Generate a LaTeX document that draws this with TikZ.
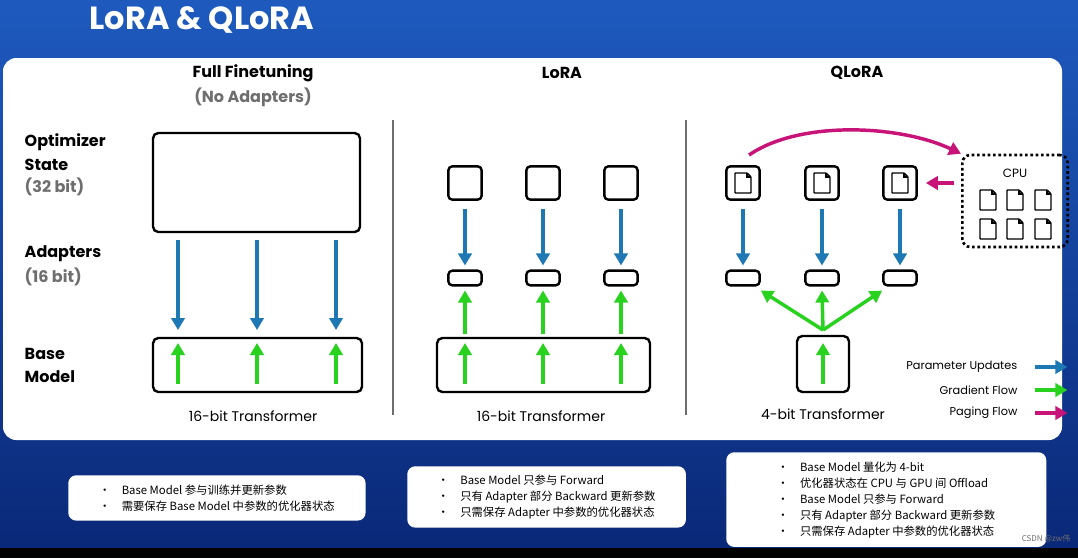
\documentclass[tikz,border=0pt]{standalone}
\usepackage{fontspec}
\setmainfont{Poppins}
\newfontfamily\cjk{Noto Sans CJK SC}
\usetikzlibrary{arrows.meta}
\definecolor{pblue}{RGB}{30,120,180}
\definecolor{pgreen}{RGB}{40,210,30}
\definecolor{pmag}{RGB}{200,20,120}
\definecolor{bgdark}{RGB}{10,40,120}
\definecolor{bglight}{RGB}{30,90,190}
\definecolor{lgray}{RGB}{110,110,110}
\begin{document}
\begin{tikzpicture}[x=0.75pt,y=-0.75pt,
  hdr/.style={font=\bfseries\fontsize{12}{14}\selectfont},
  sub/.style={font=\bfseries\fontsize{12}{14}\selectfont,text=lgray},
  rowl/.style={font=\bfseries\fontsize{12}{14}\selectfont,anchor=west},
  captxt/.style={font=\fontsize{10.5}{12}\selectfont},
  box/.style={draw,line width=1.8pt,rounded corners=4pt},
  sq/.style={draw,line width=1.8pt,rounded corners=3pt,minimum width=25pt,minimum height=25pt,inner sep=0pt},
  ad/.style={draw,line width=1.8pt,rounded corners=3pt,minimum width=25pt,minimum height=11pt,inner sep=0pt},
  blu/.style={-{Triangle[length=9pt,width=10pt]},line width=2.6pt,pblue},
  grn/.style={-{Triangle[length=9pt,width=10pt]},line width=2.6pt,pgreen},
  mag/.style={-{Triangle[length=9pt,width=10pt]},line width=2.6pt,pmag},
  note/.style={draw=none,fill=white,rounded corners=6pt,align=left,anchor=north west,font=\cjk\fontsize{8.5}{12}\selectfont,inner sep=5pt},
  doc/.pic={\draw[line width=1.1pt,rounded corners=0.5pt] (-8,-10) -- (4,-10) -- (8,-6) -- (8,10) -- (-8,10) -- cycle; \draw[line width=0.8pt] (4,-10) -- (4,-6) -- (8,-6);}
]
\useasboundingbox (0,0) rectangle (1078,558);
\shade[top color=bglight,bottom color=bgdark] (0,0) rectangle (1078,548);
\fill[black] (0,548) rectangle (1078,558);
\node[anchor=west,text=white,font=\bfseries\fontsize{24}{28}\selectfont] (title) at (85,20) {LoRA \& QLoRA};
\fill[white,rounded corners=10pt] (3,58) rectangle (1062,440);
% headers
\node[hdr] (h1) at (253,73) {Full Finetuning};
\node[sub] (h1b) at (253,97) {(No Adapters)};
\node[hdr] (h2) at (562,73) {LoRA};
\node[hdr] (h3) at (857,73) {QLoRA};
\node[rowl] (r1) at (20,142) {Optimizer};
\node[rowl] (r2) at (20,165) {State};
\node[rowl,text=lgray] (r3) at (20,187) {(32 bit)};
\node[rowl] (r4) at (20,254) {Adapters};
\node[rowl,text=lgray] (r5) at (20,277) {(16 bit)};
\node[rowl] (r6) at (20,354) {Base};
\node[rowl] (r7) at (20,377) {Model};
\draw[lgray,line width=0.8pt] (393,120) -- (393,415);
\draw[lgray,line width=0.8pt] (686,120) -- (686,415);
% Full FT
\draw[box] (153,133) rectangle (360,232);
\draw[box] (153,338) rectangle (362,392);
\foreach \x in {178,257,336}{
  \coordinate (fa\x) at (\x,240); \coordinate (fb\x) at (\x,330);
  \draw[blu] (fa\x) -- (fb\x);
  \coordinate (fc\x) at (\x,384); \coordinate (fd\x) at (\x,343);
  \draw[grn] (fc\x) -- (fd\x);}
\node[captxt] (t1) at (253,416) {16-bit Transformer};
% LoRA
\draw[box] (437,338) rectangle (650,392);
\foreach \x in {465,543,621}{
  \node[sq] (ls\x) at (\x,183) {};
  \node[ad] (la\x) at (\x,278) {};
  \draw[blu] ([yshift=-6pt]ls\x.south) -- ([yshift=3pt]la\x.north);
  \coordinate (lg\x) at (\x,334);
  \draw[grn] (lg\x) -- ([yshift=-3pt]la\x.south);
  \coordinate (lc\x) at (\x,384); \coordinate (ld\x) at (\x,343);
  \draw[grn] (lc\x) -- (ld\x);}
\node[captxt] (t2) at (541,416) {16-bit Transformer};
% QLoRA
\foreach \x in {743,822,900}{
  \node[sq] (qs\x) at (\x,183) {};
  \pic at (qs\x) {doc};
  \node[ad] (qa\x) at (\x,278) {};
  \draw[blu] ([yshift=-6pt]qs\x.south) -- ([yshift=3pt]qa\x.north);}
\node[box,minimum width=39pt,minimum height=42pt] (qb) at (823,364) {};
\coordinate (qsplit) at (823,330);
\draw[grn] (qsplit) -- ([yshift=-3pt]qa743.south east);
\draw[grn] (qsplit) -- ([yshift=-3pt]qa822.south);
\draw[grn] (qsplit) -- ([yshift=-3pt]qa900.south west);
\coordinate (qg1) at (823,384); \coordinate (qg2) at (823,343);
\draw[grn] (qg1) -- (qg2);
\node[captxt] (t3) at (823,414) {4-bit Transformer};
\node[draw,line width=2pt,dash pattern=on 2pt off 2pt,rounded corners=6pt,minimum width=79pt,minimum height=69pt] (cpu) at (1015,201) {};
\node[font=\fontsize{9}{10}\selectfont] (cpul) at (1015,173) {CPU};
\foreach \x in {988,1015,1043}{\pic at (\x,200) {doc}; \pic at (\x,229) {doc};}
\draw[mag] (749,155) .. controls (800,120) and (900,125) .. (cpu.north west);
\draw[mag] ([xshift=-5pt]cpu.west |- qs900) -- ([xshift=6pt]qs900.east);
% legend
\node[anchor=east,font=\fontsize{8.5}{10}\selectfont] (lg1) at (1022,367) {Parameter Updates};
\node[anchor=east,font=\fontsize{8.5}{10}\selectfont] (lg2) at (1022,390) {Gradient Flow};
\node[anchor=east,font=\fontsize{8.5}{10}\selectfont] (lg3) at (1022,413) {Paging Flow};
\draw[blu] ([xshift=10pt]lg1.east) -- ++(32,0);
\draw[grn] ([xshift=10pt]lg2.east) -- ++(32,0);
\draw[mag] ([xshift=10pt]lg3.east) -- ++(32,0);
% notes
\node[note,minimum width=223pt,minimum height=34pt] (n1) at (68,475) {\textbullet\quad Base Model 参与训练并更新参数\\\textbullet\quad 需要保存 Base Model 中参数的优化器状态};
\node[note,minimum width=209pt,minimum height=46pt] (n2) at (407,466) {\textbullet\quad Base Model 只参与 Forward\\\textbullet\quad 只有 Adapter 部分 Backward 更新参数\\\textbullet\quad 只需保存 Adapter 中参数的优化器状态};
\node[note,minimum width=240pt,minimum height=71pt] (n3) at (726,452) {\textbullet\quad Base Model 量化为 4-bit\\\textbullet\quad 优化器状态在 CPU 与 GPU 间 Offload\\\textbullet\quad Base Model 只参与 Forward\\\textbullet\quad 只有 Adapter 部分 Backward 更新参数\\\textbullet\quad 只需保存 Adapter 中参数的优化器状态};
\node[anchor=south east,text=lgray,font=\cjk\fontsize{6}{7}\selectfont] (csdn) at (1075,548) {CSDN @zw伟};
\end{tikzpicture}
\end{document}
